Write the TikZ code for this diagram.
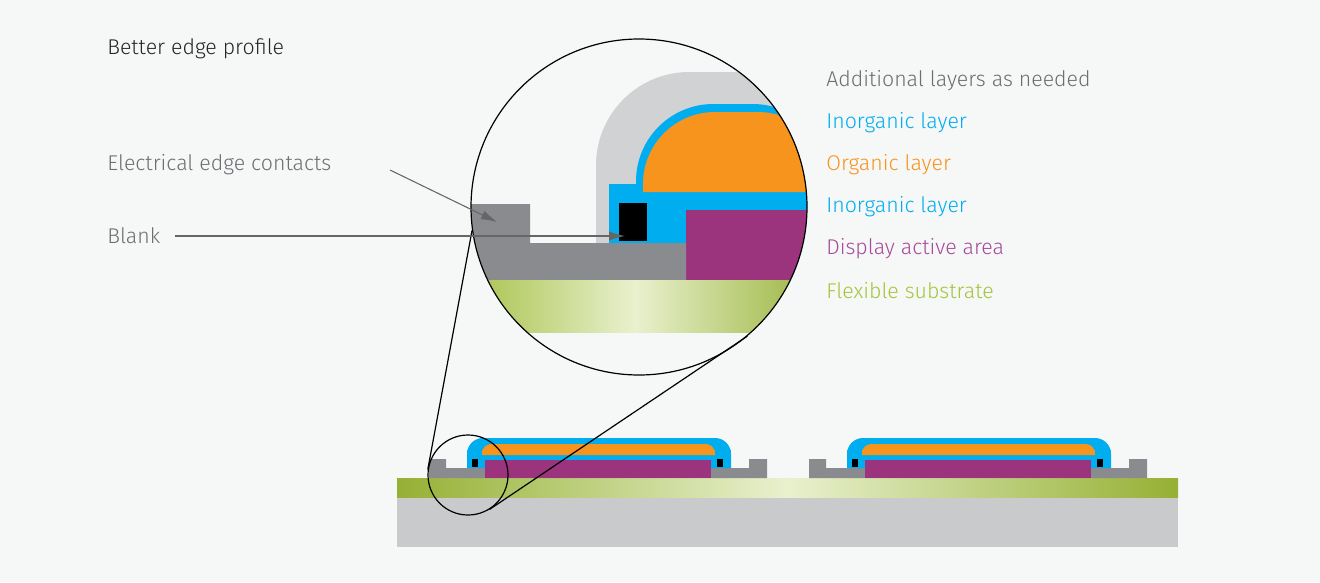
\documentclass[tikz,border=0pt]{standalone}
\usepackage{fontspec}
\setmainfont{Fira Sans Light}[BoldFont=Fira Sans]
\begin{document}
\begin{tikzpicture}[x=0.75pt,y=-0.75pt,
  lbl/.style={anchor=west,inner sep=0pt,font=\fontsize{16}{19}\selectfont},
  arr/.style={draw=gray!80!black,line width=0.8pt,-{Latex[length=12pt,width=7pt]}}]
\usetikzlibrary{arrows.meta}
\definecolor{bg}{HTML}{F6F7F7}
\definecolor{tg}{HTML}{6D6E71}
\definecolor{cblue}{HTML}{00AEEF}
\definecolor{corange}{HTML}{F7941D}
\definecolor{cpurple}{HTML}{9B347D}
\definecolor{cgreen}{HTML}{A6C43A}
\definecolor{cdgrey}{HTML}{8A8B8E}
\definecolor{clgrey}{HTML}{D1D2D4}
\definecolor{lblpurple}{HTML}{A74A9C}
\fill[bg] (0,0) rectangle (1320,582);
\useasboundingbox (0,0) rectangle (1320,582);
% bottom device
\fill[clgrey!90!gray] (397,497) rectangle (1178,547);
\shade[left color=cgreen!90!black, right color=cgreen!90!black, middle color=cgreen!25!white] (397,478) rectangle (1178,497);
\foreach \d in {0,380}{
 \begin{scope}[xshift=\d*0.75pt]
 \fill[cdgrey] (429,478) -- (429,459) -- (446,459) -- (446,468) -- (749,468) -- (749,459) -- (767,459) -- (767,478) -- cycle;
 \fill[cblue,rounded corners=12pt] (467,468) -- (467,438) -- (731,438) -- (731,468);
 \fill[cblue] (467,450) rectangle (731,468);
 \fill[corange,rounded corners=7pt] (482,455) -- (482,444) -- (715,444) -- (715,455);
 \fill[corange] (482,450) rectangle (715,455);
 \fill[cpurple] (485,460) rectangle (711,478);
 \fill[black] (472,459) rectangle (478,467);
 \fill[black] (717,459) rectangle (723,467);
 \end{scope}}
% magnified view
\coordinate (C) at (639,207);
\begin{scope}
\clip (C) circle[radius=168*0.75pt];
\fill[clgrey,rounded corners=70pt] (596,243) -- (596,72) -- (830,72) -- (830,243) [sharp corners]-- cycle;
\fill[cblue] (609,243) -- (609,184) -- (636,184) [rounded corners=58pt]-- (636,104) -- (830,104) [sharp corners]-- (830,243) -- cycle;
\fill[corange] (643,192) [rounded corners=54pt]-- (643,112) -- (830,112) [sharp corners]-- (830,192) -- cycle;
\fill[cpurple] (686,210) rectangle (830,280);
\fill[cdgrey] (440,280) -- (440,204) -- (530,204) -- (530,243) -- (686,243) -- (686,280) -- cycle;
\fill[black] (619,203) rectangle (647,241);
\shade[left color=cgreen!95!black, right color=cgreen!90!black, middle color=cgreen!25!white] (440,280) rectangle (830,332);
\end{scope}
\node[draw=black,line width=0.9pt,circle,minimum size=336*0.75pt,inner sep=0pt] (big) at (C) {};
\node[draw=black,line width=0.9pt,circle,minimum size=80*0.75pt,inner sep=0pt] (small) at (468,475) {};
\draw[line width=0.9pt] (small.172) -- (big.188);
\draw[line width=0.9pt] (small.-58) -- (big.-50);
% texts
\node[lbl,text=black!85] (title) at (107,49) {Better edge profile};
\node[lbl,text=tg] (eec) at (107,165) {Electrical edge contacts};
\node[lbl,text=tg] (blank) at (107,236) {Blank};
\coordinate (t1) at (497,222);
\coordinate (t2) at (625,236);
\draw[arr] (390,170) -- (t1);
\draw[arr] (blank.east) ++(14,0) -- (t2);
\node[lbl,text=tg] (l1) at (826,81) {Additional layers as needed};
\node[lbl,text=cblue] (l2) at (826,123) {Inorganic layer};
\node[lbl,text=corange] (l3) at (826,165) {Organic layer};
\node[lbl,text=cblue] (l4) at (826,207) {Inorganic layer};
\node[lbl,text=lblpurple] (l5) at (826,249) {Display active area};
\node[lbl,text=cgreen] (l6) at (826,291) {Flexible substrate};
\end{tikzpicture}
\end{document}
